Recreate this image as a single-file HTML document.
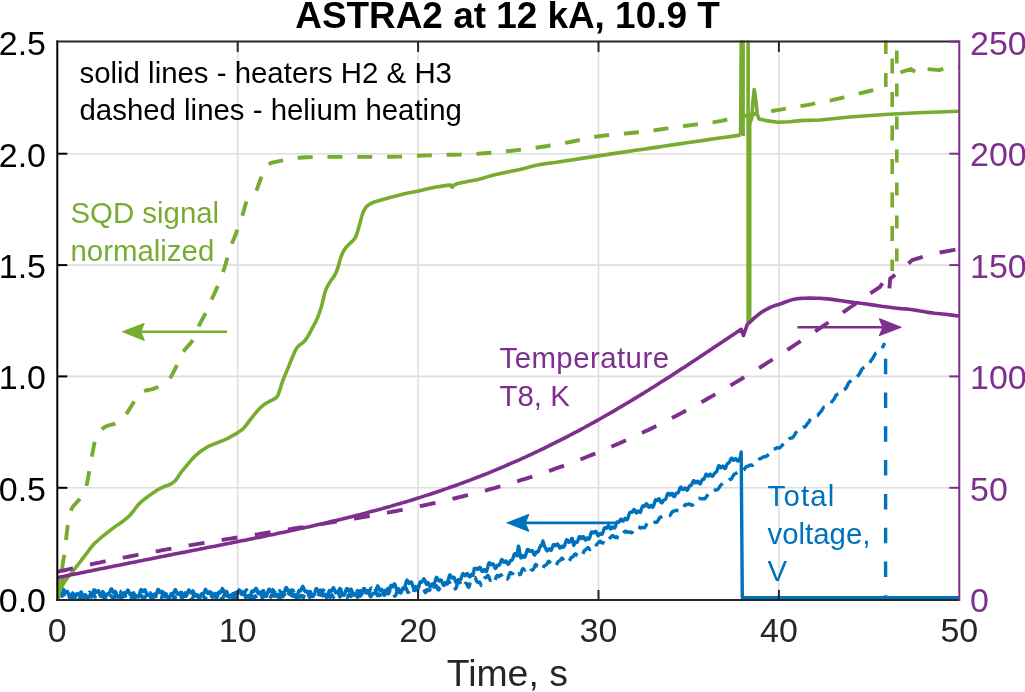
<!DOCTYPE html>
<html><head><meta charset="utf-8"><title>ASTRA2 at 12 kA, 10.9 T</title><style>
html,body{margin:0;padding:0;background:#fff;overflow:hidden;}
svg{display:block;}
text{font-family:"Liberation Sans",Arial,Helvetica,sans-serif;}
</style></head><body>
<svg width="1025" height="692" viewBox="0 0 1025 692">
<defs><clipPath id="ax"><rect x="57.3" y="40.6" width="902.1" height="560.4"/></clipPath></defs>
<rect width="1025" height="692" fill="#fff"/>
<g stroke="#dedede" stroke-width="1.6"><line x1="237.7" y1="42.4" x2="237.7" y2="599.1"/><line x1="418.1" y1="42.4" x2="418.1" y2="599.1"/><line x1="598.5" y1="42.4" x2="598.5" y2="599.1"/><line x1="778.9" y1="42.4" x2="778.9" y2="599.1"/><line x1="57.3" y1="487.8" x2="959.3" y2="487.8"/><line x1="57.3" y1="376.4" x2="959.3" y2="376.4"/><line x1="57.3" y1="265.1" x2="959.3" y2="265.1"/><line x1="57.3" y1="153.7" x2="959.3" y2="153.7"/></g>
<g clip-path="url(#ax)" stroke-linecap="butt">
<polyline points="57.8,598.1 58.5,596.3 59.2,594.8 59.9,595.1 60.6,595.4 61.3,594.6 62.0,592.7 62.7,590.4 63.4,589.2 64.1,590.3 64.8,592.1 65.5,593.0 66.2,592.0 66.9,591.4 67.6,591.6 68.3,593.4 69.0,595.7 69.7,597.1 70.4,597.4 71.1,597.0 71.8,595.9 72.5,595.9 73.2,597.3 73.9,598.4 74.6,598.6 75.3,597.2 76.0,595.2 76.7,593.8 77.4,593.6 78.1,594.4 78.8,595.0 79.5,594.6 80.2,593.3 80.9,592.0 81.6,592.5 82.3,594.5 83.0,596.0 83.7,596.4 84.4,595.9 85.1,594.8 85.8,594.9 86.5,596.9 87.2,598.6 87.9,598.5 88.6,597.2 89.3,596.0 90.0,596.0 90.7,596.9 91.4,597.1 92.1,595.7 92.8,593.1 93.5,590.7 94.2,589.7 94.9,590.5 95.6,592.1 96.3,592.4 97.0,591.6 97.7,590.8 98.4,590.7 99.1,592.3 99.8,594.9 100.5,596.3 101.2,595.6 101.9,594.8 102.6,594.9 103.3,596.4 104.0,598.3 104.7,599.1 105.4,598.3 106.1,596.2 106.8,594.4 107.5,593.8 108.2,594.2 108.9,594.0 109.6,592.6 110.3,590.4 111.0,588.9 111.7,589.0 112.4,590.7 113.1,592.4 113.8,592.9 114.5,592.3 115.2,591.3 115.9,592.1 116.6,594.5 117.3,596.8 118.0,597.2 118.7,596.1 119.4,595.6 120.1,596.4 120.8,598.0 121.5,598.7 122.2,597.6 122.9,595.2 123.6,592.7 124.3,592.6 125.0,593.3 125.7,593.7 126.4,592.8 127.1,591.0 127.8,590.0 128.5,590.7 129.2,592.7 129.9,594.4 130.6,594.9 131.3,594.1 132.0,593.5 132.7,594.1 133.4,596.5 134.1,598.3 134.8,598.4 135.5,597.1 136.2,595.9 136.9,596.1 137.6,596.6 138.3,597.0 139.0,595.9 139.7,593.2 140.4,590.7 141.1,589.5 141.8,590.2 142.5,591.5 143.2,591.7 143.9,590.6 144.6,589.7 145.3,590.3 146.0,592.2 146.7,594.6 147.4,595.5 148.1,595.4 148.8,594.2 149.5,594.6 150.2,596.1 150.9,598.1 151.6,599.1 152.3,598.8 153.0,597.2 153.7,595.3 154.4,594.4 155.1,595.0 155.8,595.6 156.5,594.0 157.2,591.6 157.9,589.5 158.6,589.7 159.3,591.3 160.0,592.6 160.7,592.8 161.4,592.2 162.1,591.3 162.8,592.1 163.5,594.3 164.2,596.2 164.9,596.9 165.6,596.2 166.3,595.3 167.0,595.9 167.7,597.4 168.4,598.9 169.1,598.9 169.8,597.2 170.5,595.0 171.2,593.5 171.9,593.6 172.6,593.9 173.3,593.5 174.0,592.0 174.7,590.3 175.4,589.6 176.1,590.8 176.8,593.2 177.5,594.3 178.2,594.1 178.9,593.5 179.6,593.0 180.3,594.4 181.0,596.5 181.7,598.0 182.4,598.2 183.1,597.3 183.8,596.0 184.5,595.5 185.2,596.3 185.9,596.3 186.6,595.5 187.3,593.7 188.0,591.4 188.7,589.9 189.4,590.6 190.1,592.1 190.8,593.0 191.5,592.8 192.2,591.6 192.9,590.8 193.6,592.1 194.3,594.3 195.0,596.1 195.7,596.1 196.4,595.1 197.1,594.7 197.8,596.3 198.5,598.1 199.2,598.9 199.9,597.8 200.6,595.6 201.3,593.9 202.0,594.7 202.7,594.5 203.4,594.1 204.1,592.4 204.8,590.5 205.5,589.4 206.2,590.3 206.9,592.0 207.6,593.4 208.3,593.1 209.0,592.2 209.7,591.6 210.4,592.8 211.1,595.1 211.8,597.0 212.5,597.3 213.2,596.2 213.9,595.3 214.6,595.5 215.3,596.7 216.0,598.3 216.7,598.2 217.4,596.4 218.1,593.7 218.8,592.1 219.5,592.0 220.2,592.9 220.9,592.4 221.6,589.9 222.3,588.5 223.0,589.3 223.7,591.3 224.4,592.7 225.1,592.8 225.8,591.9 226.5,591.3 227.2,592.4 227.9,594.7 228.6,596.9 229.3,597.2 230.0,595.9 230.7,595.2 231.4,595.7 232.1,597.3 232.8,598.6 233.5,597.6 234.2,595.2 234.9,593.0 235.6,592.5 236.3,593.3 237.0,593.8 237.7,592.7 238.4,591.2 239.1,589.9 239.8,590.3 240.5,591.6 241.2,593.7 241.9,594.5 242.6,593.6 243.3,592.6 244.0,593.0 244.7,594.7 245.4,597.3 246.1,597.8 246.8,596.6 247.5,595.7 248.2,595.4 248.9,596.8 249.6,597.9 250.3,596.8 251.0,593.9 251.7,591.3 252.4,590.7 253.1,591.1 253.8,591.6 254.5,591.1 255.2,589.3 255.9,588.4 256.6,588.9 257.3,591.0 258.0,593.3 258.7,593.7 259.4,592.4 260.1,592.1 260.8,593.2 261.5,596.1 262.2,597.7 262.9,597.5 263.6,596.1 264.3,595.1 265.0,595.5 265.7,596.4 266.4,596.1 267.1,594.8 267.8,592.3 268.5,589.8 269.2,589.1 269.9,590.2 270.6,591.7 271.3,591.6 272.0,590.6 272.7,589.6 273.4,590.4 274.1,592.4 274.8,594.6 275.5,596.2 276.2,596.4 276.9,595.0 277.6,594.3 278.3,595.5 279.0,597.6 279.7,598.3 280.4,597.3 281.1,594.7 281.8,592.9 282.5,592.8 283.2,593.2 283.9,593.1 284.6,591.4 285.3,588.9 286.0,587.6 286.7,587.9 287.4,589.6 288.1,591.4 288.8,591.8 289.5,590.6 290.2,590.3 290.9,591.3 291.6,594.2 292.3,596.1 293.0,596.2 293.7,594.8 294.4,594.4 295.1,595.8 295.8,597.4 296.5,597.8 297.2,596.1 297.9,593.6 298.6,591.3 299.3,590.4 300.0,591.1 300.7,590.7 301.4,589.2 302.1,587.2 302.8,586.3 303.5,587.4 304.2,589.7 304.9,591.3 305.6,591.9 306.3,591.6 307.0,591.1 307.7,591.9 308.4,594.3 309.1,596.5 309.8,597.5 310.5,596.7 311.2,594.9 311.9,594.5 312.6,595.1 313.3,595.9 314.0,594.9 314.7,593.3 315.4,590.7 316.1,588.8 316.8,588.8 317.5,590.2 318.2,591.6 318.9,592.3 319.6,591.0 320.3,590.0 321.0,590.5 321.7,592.8 322.4,595.3 323.1,595.9 323.8,594.8 324.5,594.1 325.2,594.2 325.9,595.6 326.6,597.6 327.3,597.1 328.0,595.2 328.7,592.0 329.4,590.4 330.1,590.6 330.8,591.2 331.5,591.1 332.2,589.8 332.9,588.2 333.6,587.8 334.3,589.4 335.0,591.5 335.7,592.9 336.4,592.7 337.1,591.8 337.8,591.4 338.5,592.9 339.2,595.4 339.9,597.0 340.6,596.1 341.3,594.6 342.0,594.1 342.7,594.5 343.4,595.2 344.1,595.4 344.8,594.3 345.5,591.6 346.2,589.4 346.9,588.5 347.6,589.0 348.3,590.4 349.0,591.3 349.7,590.9 350.4,589.7 351.1,589.0 351.8,590.4 352.5,592.8 353.2,594.6 353.9,595.2 354.6,594.2 355.3,593.2 356.0,594.1 356.7,595.6 357.4,597.2 358.1,597.0 358.8,595.2 359.5,592.7 360.2,590.8 360.9,591.4 361.6,592.3 362.3,591.7 363.0,589.7 363.7,588.5 364.4,588.5 365.1,590.2 365.8,592.1 366.5,592.9 367.2,592.7 367.9,591.7 368.6,591.8 369.3,593.6 370.0,595.9 370.7,596.8 371.4,596.0 372.1,594.6 372.8,593.3 373.5,593.1 374.2,593.4 374.9,593.5 375.6,592.1 376.3,589.6 377.0,587.1 377.7,585.9 378.4,587.2 379.1,589.2 379.8,590.5 380.5,590.0 381.2,589.2 381.9,589.6 382.6,591.5 383.3,593.9 384.0,595.2 384.7,595.2 385.4,593.5 386.1,592.6 386.8,592.6 387.5,593.4 388.2,593.9 388.9,593.4 389.6,590.8 390.3,587.3 391.0,585.4 391.7,585.7 392.4,586.9 393.1,586.3 393.8,584.4 394.5,583.9 395.2,585.1 395.9,587.5 396.6,589.9 397.3,589.7 398.0,588.7 398.7,588.9 399.4,590.5 400.1,592.5 400.8,593.0 401.5,591.9 402.2,589.5 402.9,588.0 403.6,587.9 404.3,588.0 405.0,586.1 405.7,583.8 406.4,581.1 407.1,580.1 407.8,581.2 408.5,582.8 409.2,583.5 409.9,582.9 410.6,582.0 411.3,582.0 412.0,583.2 412.7,585.7 413.4,587.9 414.1,588.5 414.8,587.2 415.5,586.6 416.2,587.4 416.9,588.7 417.6,589.5 418.3,588.4 419.0,585.6 419.7,582.9 420.4,581.7 421.1,582.4 421.8,582.2 422.5,581.3 423.2,579.7 423.9,578.8 424.6,579.7 425.3,581.6 426.0,583.5 426.7,584.5 427.4,583.5 428.1,582.6 428.8,583.6 429.5,585.5 430.2,587.1 430.9,586.7 431.6,585.4 432.3,583.9 433.0,584.2 433.7,584.2 434.4,583.3 435.1,581.5 435.8,578.6 436.5,577.3 437.2,577.8 437.9,579.4 438.6,580.6 439.3,581.0 440.0,580.3 440.7,579.9 441.4,580.3 442.1,582.5 442.8,584.2 443.5,584.8 444.2,583.7 444.9,582.6 445.6,582.7 446.3,582.5 447.0,582.4 447.7,581.7 448.4,579.5 449.1,576.5 449.8,574.9 450.5,575.2 451.2,576.7 451.9,578.0 452.6,577.9 453.3,577.4 454.0,577.3 454.7,579.0 455.4,581.2 456.1,582.6 456.8,583.3 457.5,582.2 458.2,579.8 458.9,579.4 459.6,579.7 460.3,580.1 461.0,579.0 461.7,576.6 462.4,574.4 463.1,573.5 463.8,574.3 464.5,575.3 465.2,575.7 465.9,575.1 466.6,573.9 467.3,573.6 468.0,574.5 468.7,575.9 469.4,576.9 470.1,576.7 470.8,575.7 471.5,574.3 472.2,574.0 472.9,575.3 473.6,572.3 474.3,568.4 475.0,569.1 475.7,569.1 476.4,568.3 477.1,568.5 477.8,569.4 478.5,569.2 479.2,568.0 479.9,567.3 480.6,567.8 481.3,570.0 482.0,571.4 482.7,571.6 483.4,570.6 484.1,569.6 484.8,569.8 485.5,571.4 486.2,571.6 486.9,570.3 487.6,567.7 488.3,564.6 489.0,563.0 489.7,562.8 490.4,563.9 491.1,564.7 491.8,564.5 492.5,564.0 493.2,563.9 493.9,565.1 494.6,567.3 495.3,568.5 496.0,567.8 496.7,566.6 497.4,565.3 498.1,565.4 498.8,565.5 499.5,564.6 500.2,563.5 500.9,561.3 501.6,559.6 502.3,559.8 503.0,561.1 503.7,562.2 504.4,562.3 505.1,561.5 505.8,560.9 506.5,561.5 507.2,563.0 507.9,564.2 508.6,564.1 509.3,563.0 510.0,561.6 510.7,560.4 511.4,560.3 512.1,560.1 512.8,558.8 513.5,556.5 514.2,554.4 514.9,553.5 515.6,554.0 516.3,555.3 517.0,555.7 517.7,550.5 518.4,546.1 519.1,547.9 519.8,553.4 520.5,557.5 521.2,557.9 521.9,556.9 522.6,555.8 523.3,555.8 524.0,557.1 524.7,557.3 525.4,556.0 526.1,553.5 526.8,551.1 527.5,549.4 528.2,549.4 528.9,550.3 529.6,551.3 530.3,551.4 531.0,550.8 531.7,550.6 532.4,550.7 533.1,552.1 533.8,554.1 534.5,555.1 535.2,554.2 535.9,552.9 536.6,551.7 537.3,552.0 538.0,552.0 538.7,550.7 539.4,548.3 540.1,546.7 540.8,545.5 541.5,545.7 542.2,543.8 542.9,541.0 543.6,543.3 544.3,545.9 545.0,547.1 545.7,548.5 546.4,550.0 547.1,550.9 547.8,550.3 548.5,549.3 549.2,548.7 549.9,549.4 550.6,550.4 551.3,550.0 552.0,548.4 552.7,546.1 553.4,544.8 554.1,544.4 554.8,545.4 555.5,545.7 556.2,545.3 556.9,544.3 557.6,544.0 558.3,545.0 559.0,546.6 559.7,548.0 560.4,547.9 561.1,547.1 561.8,546.1 562.5,547.0 563.2,547.3 563.9,546.8 564.6,545.4 565.3,543.2 566.0,540.8 566.7,539.7 567.4,540.1 568.1,541.5 568.8,542.4 569.5,541.9 570.2,541.5 570.9,540.2 571.6,538.5 572.3,538.5 573.0,542.5 573.7,545.4 574.4,544.1 575.1,542.0 575.8,542.2 576.5,542.5 577.2,542.2 577.9,540.7 578.6,538.4 579.3,536.6 580.0,536.6 580.7,538.0 581.4,538.6 582.1,538.0 582.8,536.7 583.5,536.6 584.2,537.9 584.9,539.6 585.6,540.1 586.3,539.4 587.0,537.9 587.7,538.5 588.4,539.0 589.1,539.1 589.8,537.6 590.5,534.8 591.2,532.4 591.9,531.7 592.6,532.3 593.3,532.9 594.0,532.5 594.7,531.8 595.4,531.3 596.1,531.6 596.8,533.4 597.5,535.1 598.2,535.8 598.9,534.9 599.6,533.8 600.3,533.5 601.0,533.6 601.7,534.4 602.4,533.7 603.1,532.0 603.8,529.6 604.5,527.8 605.2,527.6 605.9,528.0 606.6,528.2 607.3,527.3 608.0,526.0 608.7,525.6 609.4,526.8 610.1,528.6 610.8,529.0 611.5,528.2 612.2,527.0 612.9,526.9 613.6,527.3 614.3,528.1 615.0,527.6 615.7,525.8 616.4,523.1 617.1,521.9 617.8,522.1 618.5,522.3 619.2,522.0 619.9,520.5 620.6,519.2 621.3,519.1 622.0,520.3 622.7,521.0 623.4,521.0 624.1,520.1 624.8,518.7 625.5,518.3 626.2,518.8 626.9,519.8 627.6,519.1 628.3,517.0 629.0,514.4 629.7,512.7 630.4,512.3 631.1,512.3 631.8,512.4 632.5,511.6 633.2,510.3 633.9,509.5 634.6,510.0 635.3,511.5 636.0,512.6 636.7,512.9 637.4,512.1 638.1,511.0 638.8,511.1 639.5,511.9 640.2,512.4 640.9,511.2 641.6,508.6 642.3,506.6 643.0,505.7 643.7,505.9 644.4,506.4 645.1,505.7 645.8,504.2 646.5,503.7 647.2,504.5 647.9,506.0 648.6,507.2 649.3,507.3 650.0,506.4 650.7,505.4 651.4,505.4 652.1,506.8 652.8,507.2 653.5,506.3 654.2,504.1 654.9,501.0 655.6,499.8 656.3,500.2 657.0,500.8 657.7,500.2 658.4,499.1 659.1,498.7 659.8,500.0 660.5,501.6 661.2,502.7 661.9,502.8 662.6,501.6 663.3,500.5 664.0,499.9 664.7,499.8 665.4,499.6 666.1,498.2 666.8,496.0 667.5,493.9 668.2,493.2 668.9,493.7 669.6,494.9 670.3,495.1 671.0,494.4 671.7,493.5 672.4,493.7 673.1,495.3 673.8,496.5 674.5,496.5 675.2,495.4 675.9,493.7 676.6,493.2 677.3,493.1 678.0,492.8 678.7,491.6 679.4,489.7 680.1,487.7 680.8,487.1 681.5,487.7 682.2,488.8 682.9,489.5 683.6,489.4 684.3,488.6 685.0,487.9 685.7,488.2 686.4,489.6 687.1,490.3 687.8,489.5 688.5,488.0 689.2,486.5 689.9,485.7 690.6,485.2 691.3,485.3 692.0,484.0 692.7,482.3 693.4,480.7 694.1,480.8 694.8,481.6 695.5,482.9 696.2,482.8 696.9,481.7 697.6,481.2 698.3,481.6 699.0,482.7 699.7,483.8 700.4,483.7 701.1,482.2 701.8,480.4 702.5,479.4 703.2,478.9 703.9,479.2 704.6,478.0 705.3,475.8 706.0,474.3 706.7,474.2 707.4,475.1 708.1,476.1 708.8,476.1 709.5,475.1 710.2,474.1 710.9,474.6 711.6,475.8 712.3,476.3 713.0,475.8 713.7,474.8 714.4,473.4 715.1,472.8 715.8,472.5 716.5,471.7 717.2,470.2 717.9,467.8 718.6,465.9 719.3,465.8 720.0,466.7 720.7,467.7 721.4,467.8 722.1,466.9 722.8,466.0 723.5,466.4 724.2,467.8 724.9,468.5 725.6,468.2 726.3,465.9 727.0,464.3 727.7,463.2 728.4,463.1 729.1,462.5 729.8,461.5 730.5,459.7 731.2,458.3 731.9,458.1 732.6,459.0 733.3,460.1 734.0,460.3 734.7,459.3 735.4,458.6 736.1,458.8 736.8,459.7 737.5,460.8 738.2,461.1 738.9,460.0 739.6,458.8 740.3,457.4 741.2,452.0 742.3,597.8 959.3,597.8" fill="none" stroke="#0072bd" stroke-width="3.4" stroke-linejoin="round"/>
<polyline points="57.8,593.3 58.5,591.8 59.2,591.5 59.9,592.3 60.6,594.5 61.3,595.9 62.0,596.2 62.7,595.6 63.4,594.9 64.1,595.3 64.8,597.3 65.5,598.9 66.2,599.4 66.9,598.1 67.6,596.8 68.3,596.1 69.0,596.6 69.7,597.6 70.4,597.7 71.1,596.2 71.8,594.0 72.5,593.0 73.2,593.5 73.9,595.3 74.6,596.2 75.3,595.6 76.0,594.5 76.7,593.9 77.4,595.4 78.1,597.2 78.8,598.2 79.5,597.7 80.2,596.8 80.9,596.2 81.6,596.6 82.3,598.0 83.0,599.4 83.7,598.8 84.4,597.1 85.1,595.0 85.8,594.1 86.5,594.2 87.2,595.2 87.9,595.3 88.6,593.8 89.3,592.3 90.0,592.4 90.7,594.2 91.4,595.9 92.1,596.2 92.8,595.7 93.5,594.7 94.2,594.9 94.9,596.7 95.6,598.7 96.3,599.2 97.0,598.0 97.7,596.5 98.4,596.2 99.1,597.2 99.8,597.5 100.5,596.9 101.2,595.1 101.9,592.7 102.6,591.5 103.3,592.2 104.0,593.5 104.7,594.5 105.4,594.1 106.1,593.0 106.8,592.4 107.5,593.4 108.2,595.7 108.9,597.3 109.6,597.6 110.3,596.9 111.0,595.8 111.7,596.2 112.4,597.9 113.1,599.3 113.8,599.4 114.5,597.5 115.2,595.2 115.9,594.2 116.6,594.6 117.3,594.8 118.0,595.1 118.7,593.2 119.4,591.2 120.1,591.1 120.8,592.5 121.5,594.2 122.2,595.3 122.9,594.9 123.6,594.0 124.3,593.7 125.0,594.8 125.7,597.0 126.4,598.6 127.1,598.1 127.8,596.8 128.5,596.2 129.2,596.7 129.9,597.9 130.6,599.0 131.3,597.9 132.0,595.4 132.7,593.4 133.4,592.7 134.1,593.5 134.8,594.7 135.5,595.1 136.2,593.9 136.9,592.5 137.6,592.7 138.3,594.6 139.0,596.4 139.7,597.2 140.4,596.6 141.1,595.5 141.8,595.7 142.5,597.4 143.2,599.3 143.9,599.5 144.6,598.7 145.3,596.6 146.0,595.7 146.7,596.4 147.4,597.4 148.1,597.3 148.8,595.2 149.5,593.3 150.2,592.8 150.9,593.9 151.6,595.3 152.3,596.2 153.0,595.7 153.7,594.7 154.4,594.2 155.1,595.0 155.8,596.9 156.5,598.5 157.2,598.6 157.9,597.5 158.6,596.3 159.3,596.5 160.0,597.9 160.7,599.2 161.4,598.5 162.1,596.3 162.8,594.2 163.5,592.7 164.2,593.3 164.9,594.0 165.6,594.0 166.3,592.9 167.0,591.5 167.7,590.9 168.4,591.9 169.1,594.2 169.8,595.7 170.5,595.6 171.2,594.6 171.9,594.0 172.6,595.1 173.3,597.3 174.0,598.9 174.7,599.1 175.4,597.4 176.1,596.5 176.8,596.0 177.5,596.4 178.2,597.4 178.9,597.5 179.6,595.9 180.3,593.6 181.0,592.3 181.7,592.5 182.4,594.3 183.1,595.3 183.8,594.9 184.5,593.9 185.2,592.8 185.9,593.6 186.6,595.2 187.3,597.4 188.0,598.0 188.7,597.1 189.4,596.1 190.1,596.1 190.8,597.8 191.5,599.3 192.2,598.9 192.9,597.5 193.6,595.2 194.3,593.7 195.0,594.4 195.7,595.2 196.4,594.8 197.1,593.7 197.8,592.2 198.5,591.4 199.2,592.3 199.9,594.2 200.6,595.9 201.3,595.6 202.0,594.2 202.7,593.8 203.4,595.5 204.1,597.7 204.8,598.8 205.5,598.4 206.2,597.1 206.9,596.0 207.6,596.5 208.3,597.2 209.0,598.3 209.7,597.4 210.4,595.2 211.1,593.3 211.8,592.7 212.5,594.3 213.2,595.6 213.9,595.5 214.6,594.3 215.3,593.4 216.0,593.4 216.7,595.2 217.4,597.1 218.1,597.7 218.8,596.7 219.5,595.8 220.2,595.8 220.9,597.3 221.6,598.7 222.3,599.1 223.0,598.1 223.7,595.9 224.4,594.4 225.1,594.5 225.8,595.7 226.5,595.8 227.2,594.8 227.9,593.0 228.6,591.5 229.3,591.9 230.0,593.4 230.7,595.1 231.4,595.4 232.1,594.5 232.8,593.6 233.5,593.9 234.2,595.3 234.9,597.3 235.6,598.4 236.3,598.0 237.0,596.7 237.7,595.9 238.4,596.4 239.1,598.0 239.8,598.5 240.5,597.5 241.2,594.8 241.9,592.9 242.6,591.8 243.3,592.7 244.0,593.5 244.7,593.0 245.4,591.3 246.1,589.9 246.8,590.0 247.5,591.8 248.2,593.7 248.9,594.6 249.6,593.9 250.3,593.0 251.0,593.8 251.7,595.8 252.4,598.1 253.1,598.7 253.8,598.0 254.5,596.4 255.2,595.7 255.9,596.9 256.6,598.2 257.3,597.2 258.0,595.2 258.7,593.1 259.4,592.2 260.1,592.7 260.8,593.5 261.5,593.2 262.2,592.0 262.9,590.7 263.6,590.8 264.3,592.7 265.0,594.9 265.7,595.4 266.4,594.3 267.1,593.5 267.8,594.5 268.5,597.1 269.2,598.6 269.9,598.5 270.6,596.9 271.3,595.5 272.0,594.8 272.7,595.6 273.4,596.2 274.1,594.8 274.8,592.3 275.5,590.2 276.2,590.1 276.9,591.6 277.6,593.1 278.3,593.3 279.0,591.9 279.7,590.7 280.4,591.6 281.1,593.6 281.8,595.7 282.5,596.8 283.2,596.5 283.9,595.2 284.6,594.9 285.3,596.3 286.0,598.4 286.7,598.7 287.4,597.2 288.1,594.5 288.8,593.5 289.5,594.0 290.2,594.8 290.9,594.1 291.6,591.7 292.3,589.9 293.0,590.3 293.7,591.8 294.4,593.4 295.1,593.6 295.8,592.9 296.5,592.1 297.2,592.4 297.9,594.4 298.6,596.7 299.3,597.4 300.0,596.8 300.7,595.7 301.4,595.2 302.1,596.1 302.8,597.3 303.5,597.4 304.2,595.3 304.9,593.3 305.6,591.5 306.3,591.4 307.0,592.8 307.7,594.1 308.4,593.9 309.1,592.5 309.8,591.5 310.5,592.0 311.2,593.8 311.9,595.8 312.6,596.7 313.3,596.0 314.0,594.7 314.7,594.6 315.4,595.8 316.1,597.6 316.8,598.4 317.5,597.5 318.2,595.3 318.9,594.1 319.6,594.1 320.3,594.8 321.0,595.0 321.7,593.5 322.4,591.7 323.1,590.1 323.8,590.5 324.5,592.2 325.2,593.9 325.9,593.9 326.6,592.7 327.3,592.0 328.0,592.7 328.7,594.9 329.4,597.0 330.1,597.3 330.8,595.8 331.5,594.6 332.2,595.4 332.9,596.6 333.6,597.2 334.3,595.9 335.0,593.1 335.7,591.1 336.4,589.8 337.1,590.3 337.8,591.3 338.5,591.0 339.2,589.6 339.9,588.4 340.6,588.7 341.3,590.6 342.0,592.9 342.7,593.6 343.4,593.0 344.1,592.4 344.8,592.4 345.5,594.8 346.2,597.0 346.9,597.7 347.6,597.1 348.3,595.4 349.0,594.4 349.7,595.0 350.4,596.0 351.1,596.4 351.8,594.9 352.5,592.2 353.2,590.6 353.9,590.6 354.6,592.3 355.3,593.4 356.0,592.8 356.7,591.3 357.4,590.5 358.1,591.2 358.8,593.2 359.5,595.2 360.2,596.1 360.9,595.5 361.6,594.5 362.3,593.9 363.0,595.1 363.7,597.0 364.4,597.9 365.1,596.8 365.8,594.3 366.5,591.4 367.2,590.4 367.9,590.6 368.6,592.0 369.3,591.9 370.0,590.2 370.7,588.4 371.4,588.0 372.1,589.1 372.8,591.3 373.5,592.7 374.2,591.9 374.9,590.6 375.6,591.1 376.3,593.0 377.0,595.0 377.7,595.8 378.4,595.1 379.1,593.9 379.8,594.2 380.5,596.0 381.2,597.4 381.9,597.1 382.6,595.0 383.3,592.6 384.0,591.0 384.7,590.6 385.4,591.4 386.1,592.0 386.8,591.0 387.5,588.9 388.2,588.3 388.9,589.3 389.6,591.5 390.3,593.0 391.0,593.3 391.7,592.5 392.4,591.6 393.1,592.2 393.8,594.5 394.5,596.0 395.2,596.1 395.9,594.7 396.6,592.7 397.3,591.5 398.0,591.9 398.7,592.4 399.4,591.6 400.1,589.3 400.8,586.9 401.5,585.8 402.2,586.9 402.9,588.7 403.6,589.2 404.3,588.0 405.0,587.0 405.7,587.5 406.4,588.5 407.1,590.5 407.8,592.4 408.5,592.3 409.2,591.7 409.9,590.9 410.6,591.6 411.3,592.9 412.0,594.2 412.7,594.1 413.4,592.3 414.1,589.8 414.8,588.9 415.5,589.3 416.2,590.0 416.9,589.4 417.6,587.7 418.3,586.0 419.0,585.9 419.7,587.5 420.4,589.2 421.1,590.0 421.8,589.6 422.5,588.6 423.2,588.1 423.9,589.4 424.6,591.4 425.3,592.5 426.0,592.0 426.7,590.3 427.4,589.4 428.1,589.6 428.8,590.6 429.5,590.5 430.2,589.2 430.9,586.5 431.6,584.6 432.3,584.5 433.0,585.6 433.7,586.9 434.4,587.2 435.1,586.2 435.8,585.5 436.5,585.8 437.2,587.4 437.9,589.4 438.6,590.0 439.3,589.2 440.0,587.8 440.7,587.6 441.4,588.9 442.1,590.5 442.8,589.7 443.5,587.2 444.2,584.2 444.9,583.3 445.6,583.6 446.3,584.0 447.0,584.1 447.7,583.5 448.4,582.1 449.1,581.7 449.8,582.9 450.5,584.8 451.2,586.1 451.9,586.4 452.6,585.6 453.3,585.4 454.0,586.1 454.7,587.6 455.4,589.0 456.1,587.9 456.8,585.5 457.5,583.5 458.2,582.6 458.9,582.6 459.6,582.7 460.3,582.5 461.0,581.2 461.7,580.2 462.4,580.5 463.1,582.0 463.8,583.8 464.5,584.5 465.2,583.8 465.9,583.1 466.6,583.8 467.3,585.3 468.0,586.7 468.7,587.4 469.4,585.8 470.1,583.1 470.8,581.6 471.5,580.8 472.2,581.1 472.9,580.6 473.6,579.0 474.3,577.8 475.0,577.4 475.7,578.5 476.4,580.7 477.1,581.8 477.8,582.4 478.5,582.4 479.2,581.9 479.9,582.5 480.6,584.0 481.3,585.4 482.0,584.9 482.7,582.8 483.4,580.2 484.1,578.8 484.8,577.7 485.5,577.7 486.2,577.6 486.9,576.4 487.6,575.4 488.3,575.7 489.0,577.2 489.7,579.1 490.4,580.4 491.1,580.2 491.8,579.9 492.5,580.1 493.2,581.6 493.9,582.8 494.6,581.6 495.3,579.7 496.0,577.5 496.7,576.0 497.4,575.4 498.1,575.8 498.8,576.6 499.5,576.3 500.2,575.5 500.9,574.8 501.6,575.4 502.3,577.1 503.0,578.3 503.7,578.7 504.4,578.0 505.1,577.3 505.8,577.3 506.5,578.1 507.2,579.1 507.9,578.4 508.6,576.7 509.3,574.5 510.0,572.8 510.7,572.4 511.4,573.3 512.1,573.7 512.8,573.4 513.5,572.3 514.2,572.2 514.9,573.1 515.6,574.6 516.3,575.6 517.0,575.2 517.7,574.3 518.4,573.8 519.1,574.1 519.8,574.7 520.5,574.4 521.2,572.6 521.9,570.5 522.6,568.9 523.3,568.7 524.0,569.4 524.7,570.0 525.4,569.9 526.1,569.0 526.8,568.7 527.5,569.2 528.2,570.4 528.9,571.5 529.6,571.8 530.3,571.1 531.0,570.1 531.7,570.0 532.4,570.2 533.1,569.7 533.8,568.5 534.5,566.8 535.2,565.0 535.9,564.5 536.6,565.1 537.3,566.1 538.0,566.3 538.7,566.1 539.4,565.6 540.1,565.9 540.8,567.0 541.5,568.4 542.2,568.8 542.9,568.2 543.6,566.9 544.3,565.9 545.0,565.3 545.7,565.1 546.4,564.7 547.1,563.7 547.8,562.3 548.5,561.3 549.2,561.4 549.9,562.1 550.6,563.1 551.3,563.8 552.0,563.4 552.7,563.0 553.4,563.0 554.1,563.8 554.8,564.9 555.5,565.4 556.2,565.3 556.9,563.9 557.6,562.5 558.3,561.5 559.0,561.2 559.7,560.9 560.4,559.9 561.1,558.8 561.8,558.1 562.5,558.4 563.2,559.6 563.9,560.7 564.6,561.3 565.3,560.7 566.0,560.6 566.7,560.8 567.4,561.5 568.1,562.0 568.8,561.8 569.5,560.8 570.2,559.2 570.9,557.9 571.6,557.3 572.3,557.2 573.0,556.6 573.7,555.8 574.4,554.7 575.1,554.0 575.8,554.2 576.5,554.7 577.2,555.5 577.9,555.5 578.6,555.2 579.3,554.7 580.0,554.8 580.7,555.4 581.4,555.7 582.1,555.7 582.8,554.3 583.5,552.4 584.2,550.7 584.9,550.1 585.6,549.8 586.3,549.3 587.0,548.4 587.7,547.7 588.4,547.8 589.1,548.7 589.8,549.5 590.5,549.5 591.2,549.1 591.9,548.9 592.6,549.1 593.3,549.6 594.0,549.8 594.7,548.7 595.4,546.7 596.1,545.2 596.8,544.3 597.5,543.6 598.2,542.9 598.9,542.1 599.6,541.5 600.3,541.3 601.0,541.7 601.7,542.7 602.4,543.1 603.1,542.9 603.8,542.8 604.5,542.9 605.2,543.4 605.9,543.6 606.6,543.3 607.3,542.1 608.0,540.5 608.7,539.0 609.4,538.4 610.1,537.9 610.8,537.2 611.5,536.3 612.2,535.7 612.9,535.6 613.6,536.2 614.3,536.8 615.0,537.3 615.7,537.2 616.4,536.8 617.1,537.0 617.8,537.6 618.5,538.1 619.2,538.1 619.9,536.5 620.6,535.4 621.3,534.5 622.0,534.2 622.7,533.6 623.4,532.9 624.1,532.1 624.8,531.3 625.5,531.1 626.2,531.4 626.9,532.1 627.6,532.4 628.3,532.2 629.0,531.9 629.7,532.0 630.4,532.4 631.1,532.8 631.8,532.8 632.5,531.9 633.2,530.7 633.9,529.6 634.6,529.0 635.3,528.7 636.0,528.3 636.7,527.6 637.4,526.8 638.1,526.5 638.8,526.8 639.5,527.3 640.2,528.0 640.9,528.0 641.6,527.5 642.3,527.3 643.0,527.5 643.7,527.8 644.4,527.9 645.1,527.0 645.8,525.8 646.5,524.5 647.2,523.4 647.9,522.8 648.6,522.6 649.3,522.3 650.0,521.8 650.7,521.4 651.4,521.6 652.1,522.1 652.8,522.6 653.5,522.8 654.2,522.5 654.9,522.1 655.6,522.2 656.3,522.4 657.0,522.2 657.7,521.1 658.4,519.9 659.1,518.5 659.8,517.6 660.5,517.0 661.2,516.8 661.9,516.7 662.6,516.3 663.3,516.0 664.0,515.8 664.7,516.3 665.4,516.9 666.1,517.0 666.8,516.7 667.5,516.3 668.2,516.1 668.9,515.7 669.6,515.6 670.3,515.1 671.0,513.9 671.7,512.5 672.4,511.7 673.1,511.3 673.8,511.2 674.5,511.0 675.2,510.7 675.9,510.3 676.6,510.3 677.3,510.4 678.0,510.8 678.7,510.9 679.4,510.5 680.1,509.9 680.8,509.5 681.5,509.8 682.2,509.3 682.9,508.5 683.6,507.4 684.3,506.0 685.0,505.0 685.7,504.5 686.4,504.5 687.1,504.6 687.8,504.5 688.5,504.2 689.2,503.9 689.9,504.1 690.6,504.6 691.3,505.1 692.0,505.3 692.7,504.9 693.4,504.3 694.1,503.6 694.8,502.7 695.5,501.8 696.2,500.7 696.9,499.8 697.6,499.1 698.3,498.5 699.0,498.3 699.7,498.5 700.4,498.7 701.1,498.9 701.8,498.9 702.5,498.8 703.2,498.7 703.9,498.9 704.6,498.9 705.3,498.3 706.0,497.4 706.7,496.3 707.4,495.3 708.1,494.4 708.8,493.7 709.5,492.9 710.2,491.9 710.9,491.1 711.6,490.8 712.3,490.9 713.0,490.9 713.7,490.7 714.4,490.4 715.1,490.1 715.8,489.9 716.5,489.9 717.2,489.8 717.9,489.4 718.6,488.4 719.3,487.3 720.0,486.1 720.7,485.3 721.4,484.5 722.1,483.9 722.8,483.2 723.5,482.4 724.2,481.9 724.9,481.5 725.6,481.2 726.3,481.3 727.0,481.2 727.7,481.0 728.4,480.4 729.1,479.8 729.8,479.5 730.5,479.6 731.2,479.1 731.9,478.2 732.6,476.7 733.3,475.5 734.0,474.5 734.7,474.0 735.4,473.7 736.1,473.3 736.8,472.8 737.5,472.4 738.2,472.3 738.9,472.5 739.6,472.8 740.3,472.8 741.0,472.3 741.7,471.7 742.4,470.9 743.1,470.5 743.8,470.0 744.5,469.0 745.2,468.0 745.9,467.1 746.6,466.5 747.3,466.3 748.0,466.2 748.7,466.0 749.4,465.4 750.1,465.1 750.8,465.0 751.5,465.2 752.2,465.3 752.9,465.3 753.6,464.8 754.3,464.2 755.0,463.8 755.7,463.4 756.4,463.1 757.1,462.3 757.8,461.3 758.5,460.3 759.2,459.3 759.9,458.7 760.6,458.5 761.3,458.2 762.0,457.8 762.7,457.2 763.4,456.9 764.1,456.8 764.8,456.8 765.5,456.8 766.2,456.4 766.9,455.8 767.6,455.4 768.3,454.8 769.0,454.3 769.7,453.7 770.4,452.9 771.1,451.8 771.8,450.6 772.5,449.6 773.2,449.1 773.9,449.0 774.6,448.9 775.3,448.7 776.0,448.3 776.7,447.9 777.4,447.6 778.1,447.8 778.8,448.0 779.5,447.9 780.2,447.4 780.9,446.6 781.6,445.9 782.3,445.2 783.0,444.4 783.7,443.7 784.4,442.5 785.1,441.3 785.8,440.3 786.5,439.8 787.2,439.7 787.9,439.6 788.6,439.2 789.3,438.7 790.0,438.3 790.7,438.1 791.4,438.0 792.1,437.9 792.8,437.3 793.5,436.7 794.2,435.5 794.9,434.3 795.6,433.0 796.3,432.1 797.0,431.1 797.7,430.1 798.4,429.3 799.1,428.7 799.8,428.6 800.5,428.6 801.2,428.2 801.9,427.6 802.6,427.3 803.3,427.0 804.0,427.0 804.7,427.0 805.4,426.5 806.1,425.7 806.8,424.3 807.5,423.5 808.2,422.8 808.9,421.9 809.6,420.7 810.3,419.4 811.0,418.5 811.7,418.2 812.4,417.9 813.1,417.5 813.8,416.9 814.5,416.3 815.2,415.9 815.9,415.7 816.6,415.7 817.3,415.5 818.0,415.0 818.7,414.1 819.4,413.2 820.1,412.5 820.8,411.6 821.5,410.8 822.2,409.7 822.9,408.4 823.6,407.4 824.3,406.9 825.0,406.7 825.7,406.5 826.4,406.0 827.1,405.3 827.8,404.8 828.5,404.6 829.2,404.4 829.9,404.1 830.6,403.4 831.3,402.5 832.0,401.5 832.7,400.7 833.4,399.9 834.1,399.0 834.8,397.6 835.5,396.2 836.2,395.1 836.9,394.5 837.6,394.2 838.3,393.9 839.0,393.3 839.7,392.5 840.4,392.0 841.1,391.7 841.8,391.7 842.5,391.4 843.2,390.7 843.9,389.8 844.6,389.4 845.3,388.7 846.0,388.0 846.7,386.9 847.4,385.6 848.1,383.9 848.8,382.6 849.5,381.8 850.2,381.4 850.9,381.1 851.6,380.6 852.3,380.0 853.0,379.4 853.7,379.1 854.4,379.0 855.1,378.9 855.8,378.5 856.5,377.9 857.2,377.0 857.9,376.0 858.6,375.0 859.3,374.1 860.0,372.7 860.7,371.4 861.4,370.1 862.1,368.9 862.8,368.2 863.5,367.9 864.2,367.7 864.9,367.4 865.6,366.8 866.3,366.0 867.0,365.3 867.7,364.9 868.4,364.6 869.1,364.1 869.8,363.3 870.5,361.6 871.2,360.3 871.9,359.4 872.6,358.5 873.3,357.4 874.0,356.0 874.7,354.7 875.4,353.6 876.1,353.0 876.8,352.7 877.5,352.1 878.2,351.4 878.9,350.4 879.6,349.8 880.3,349.3 881.0,348.9 881.7,348.3 882.4,347.4 883.1,346.3 883.8,345.2 884.6,343.0" fill="none" stroke="#0072bd" stroke-width="3.4" stroke-linejoin="round" stroke-dasharray="12 7.4"/>
<line x1="885.6" y1="343" x2="885.6" y2="597.8" stroke="#0072bd" stroke-width="3.4" stroke-dasharray="15.5 18.3" stroke-dashoffset="18.1"/>
<line x1="885.6" y1="597.8" x2="959.3" y2="597.8" stroke="#0072bd" stroke-width="3.4"/>
<polyline points="57.8,598.5 58.4,596.0 59.3,592.4 60.6,588.8 62.2,585.6 64.2,582.5 66.3,579.4 68.6,576.4 71.1,573.3 73.8,570.0 76.8,566.1 80.0,562.0 83.2,557.8 86.5,553.5 89.7,549.2 92.6,545.6 94.5,543.4 96.1,542.0 98.4,540.0 102.3,536.7 107.0,532.9 111.4,529.4 115.2,526.6 118.8,524.2 122.2,521.8 125.3,519.3 128.2,516.9 130.9,514.2 133.5,511.0 136.0,507.5 138.5,504.4 140.9,502.1 143.3,500.1 146.0,498.0 149.5,495.4 153.3,492.7 156.9,490.3 160.1,488.5 163.1,487.1 165.6,486.0 167.3,485.4 168.6,485.1 170.0,484.5 171.9,483.4 173.9,481.9 175.8,480.2 177.3,478.2 178.6,476.0 180.1,473.7 181.8,471.5 183.7,469.1 185.9,466.5 188.5,463.3 191.4,459.8 194.6,456.4 198.2,453.3 202.2,450.3 206.1,447.7 210.0,445.7 213.9,444.1 217.7,442.6 221.2,441.2 224.5,439.8 227.8,438.3 231.3,436.4 234.9,434.4 237.9,432.5 240.1,431.1 241.8,430.0 243.7,428.2 246.0,425.4 248.4,422.1 250.9,418.8 253.3,415.8 255.8,412.8 258.2,410.1 260.5,407.7 262.8,405.6 265.4,403.6 268.8,401.7 272.6,399.9 275.6,398.1 277.2,396.6 278.0,395.1 278.9,392.7 280.2,388.9 281.6,384.3 283.2,379.7 285.0,375.3 286.8,370.9 288.6,366.7 290.1,362.9 291.6,359.3 293.0,355.9 294.3,352.8 295.6,349.9 297.3,347.2 299.6,345.0 302.3,343.1 304.9,340.7 307.1,337.5 309.3,333.8 311.4,329.9 313.6,325.7 315.9,321.3 317.9,316.9 319.5,312.5 320.9,308.2 322.2,303.8 323.3,299.3 324.3,294.8 325.5,290.8 326.8,287.6 328.3,284.9 330.0,282.0 332.0,279.1 334.2,276.1 336.3,272.2 338.2,266.7 339.9,260.3 341.7,254.9 343.4,251.3 345.1,248.7 347.1,246.2 349.6,243.7 352.3,241.4 354.7,238.6 356.4,235.1 357.7,231.1 359.0,226.7 360.4,221.6 361.8,216.1 363.4,211.5 365.2,208.3 367.2,206.0 369.9,204.0 373.5,202.3 377.8,201.0 382.9,199.6 389.0,197.8 395.9,195.9 402.4,194.2 408.1,192.9 413.5,191.9 418.6,190.9 423.8,189.7 428.7,188.6 432.7,187.7 434.9,187.2 436.0,187.0 438.0,186.7 442.0,186.1 446.9,185.4 450.5,185.1 451.7,185.7 451.7,186.8 452.1,187.2 452.9,186.5 454.0,185.2 456.8,183.8 462.6,182.5 470.0,181.1 477.0,179.7 482.7,178.2 487.9,176.6 492.7,175.2 497.0,174.2 500.8,173.4 505.0,172.6 509.8,171.6 514.9,170.6 520.0,169.5 525.1,168.2 530.2,166.7 535.0,165.5 539.1,164.7 542.8,164.1 546.7,163.5 550.8,163.0 555.0,162.5 560.0,161.8 566.2,160.8 573.1,159.7 580.0,158.6 586.7,157.6 593.3,156.6 600.0,155.6 606.5,154.6 613.1,153.6 620.0,152.6 627.6,151.5 635.6,150.3 643.4,149.2 650.7,148.1 657.9,147.1 665.0,146.0 672.2,144.9 679.5,143.9 686.7,142.8 693.9,141.7 701.2,140.7 708.4,139.6 716.0,138.5 723.6,137.5 730.0,136.6 734.7,135.9 738.3,135.4 740.6,135.0" fill="none" stroke="#77ac30" stroke-width="3.6" stroke-linejoin="round"/>
<polyline points="740.6,135.0 741.4,20.0" fill="none" stroke="#77ac30" stroke-width="3.6" stroke-linejoin="round"/>
<polyline points="743.1,20.0 743.1,136.0" fill="none" stroke="#77ac30" stroke-width="3.6" stroke-linejoin="round"/>
<polyline points="748.1,20.0 748.1,322.0 749.7,322.0 749.7,124.0 751.8,118.0 752.7,104.0 754.2,89.5 755.8,100.0 757.2,114.0 759.0,119.0 766.2,120.6 777.8,122.2 789.4,121.8 800.0,120.6 820.0,120.0 852.5,116.7 885.0,114.5 917.6,112.8 959.3,111.3" fill="none" stroke="#77ac30" stroke-width="3.6" stroke-linejoin="round"/>
<polyline points="57.8,599.0 58.5,594.6 59.5,588.3 60.5,582.0 61.2,576.2 61.9,570.4 62.6,565.0 63.3,560.3 64.1,555.9 64.8,551.0 65.5,544.9 66.2,538.2 66.9,532.0 67.6,526.5 68.3,521.4 69.1,517.0 69.9,513.5 70.7,510.7 72.0,508.0 74.1,505.2 76.6,502.5 78.8,500.1 80.5,498.2 81.9,496.7 83.2,494.7 84.4,492.4 85.4,489.7 86.4,486.0 87.5,480.9 88.6,474.8 89.7,468.7 90.8,462.7 91.8,456.7 92.9,451.0 93.9,445.5 95.0,440.2 96.2,436.0 97.6,433.3 99.3,431.5 101.0,430.0 102.9,428.4 104.9,427.1 107.0,426.0 109.3,425.2 111.7,424.6 114.0,424.0 116.1,423.3 118.1,422.7 120.0,421.6 121.7,420.0 123.4,418.1 125.0,416.0 126.4,414.0 127.8,411.7 129.8,408.6 132.8,403.7 136.3,397.9 139.5,393.5 141.9,391.5 144.0,390.9 146.0,390.5 148.1,390.0 150.3,389.6 152.5,389.1 154.9,388.2 157.4,387.2 160.0,386.0 162.6,384.9 165.1,383.7 167.7,381.5 170.2,377.9 172.8,373.4 175.3,368.5 177.8,363.2 180.2,357.5 182.9,352.3 186.1,348.1 189.6,344.4 192.7,340.3 195.1,335.3 197.2,330.0 199.2,325.2 201.2,321.3 203.2,317.8 205.0,314.3 206.7,310.6 208.3,306.9 210.0,303.0 212.0,298.7 214.1,294.2 216.0,290.0 217.5,286.6 218.8,283.5 220.3,279.8 222.1,274.8 224.0,269.1 225.8,263.6 227.2,258.5 228.5,253.5 230.1,248.4 232.1,243.0 234.4,237.5 236.6,232.1 238.5,227.1 240.2,222.2 242.0,217.0 243.7,211.0 245.4,204.7 247.4,199.6 249.9,196.7 252.7,194.9 255.0,193.1 256.3,191.0 257.1,188.8 258.3,185.5 260.3,180.0 262.6,173.4 264.8,168.2 266.6,165.6 268.2,164.4 270.0,163.5 271.7,162.7 273.6,162.3 276.7,161.7 281.8,160.6 288.2,159.4 294.0,158.4 298.5,157.8 302.5,157.5 307.0,157.3 312.5,157.1 318.6,157.0 324.4,156.9 329.2,156.9 333.8,156.9 340.0,156.9 348.9,156.9 359.5,156.9 370.0,156.9 380.4,156.8 390.8,156.7 400.0,156.6 406.7,156.4 412.1,156.1 418.6,155.8 427.8,155.4 438.2,155.0 446.8,154.7 451.9,154.6 455.4,154.7 460.0,154.6 467.1,154.3 475.3,153.9 484.0,153.3 493.0,152.6 502.4,151.7 512.0,150.7 521.6,149.6 531.3,148.4 541.0,147.0 550.7,145.5 560.3,143.8 570.0,142.0 579.7,140.0 589.3,137.9 599.0,136.2 608.6,135.0 618.3,134.2 628.0,133.3 638.0,132.2 648.1,131.0 658.0,129.8 667.5,128.4 676.8,127.0 686.0,125.7 695.1,124.6 704.1,123.6 713.0,122.4 721.5,120.8 729.9,118.9 739.0,117.0 749.8,115.0 761.3,112.9 772.0,111.0 780.6,109.6 788.2,108.3 797.0,106.8 808.1,104.8 820.3,102.5 832.0,100.2 842.8,97.7 853.1,95.1 862.0,92.8 869.6,91.0 875.8,89.5 880.0,88.5 885.5,87.0" fill="none" stroke="#77ac30" stroke-width="3.9" stroke-linejoin="round" stroke-dasharray="15 14.8"/>
<line x1="885.8" y1="87" x2="885.8" y2="36" stroke="#77ac30" stroke-width="3.6" stroke-dasharray="14 19"/>
<line x1="892.2" y1="38" x2="892.2" y2="271" stroke="#77ac30" stroke-width="3.6" stroke-dasharray="15 18.5" stroke-dashoffset="13.1"/>
<line x1="896.8" y1="271" x2="896.8" y2="50" stroke="#77ac30" stroke-width="3.6" stroke-dasharray="13 20" stroke-dashoffset="23.5"/>
<polyline points="900.5,72.3 911.0,69.0 918.6,74.4 926.2,69.0 939.2,70.1 950.0,66.9 959.3,67.0" fill="none" stroke="#77ac30" stroke-width="3.9" stroke-linejoin="round" stroke-dasharray="16 15"/>
<polygon points="57.8,599 57.8,579.5 60,578.2 67.2,577.6 61,592 59.5,598.5" fill="#77ac30"/>
<polyline points="57.3,577.6 60.3,577.0 63.3,576.4 66.3,575.8 69.3,575.2 72.3,574.6 75.3,574.0 78.3,573.4 81.3,572.8 84.3,572.2 87.3,571.5 90.3,570.9 93.3,570.3 96.3,569.7 99.3,569.1 102.3,568.5 105.3,567.9 108.3,567.3 111.3,566.7 114.3,566.1 117.3,565.5 120.3,564.9 123.3,564.3 126.3,563.7 129.3,563.1 132.3,562.5 135.3,561.9 138.3,561.3 141.3,560.7 144.3,560.1 147.3,559.5 150.3,558.9 153.3,558.3 156.3,557.7 159.3,557.1 162.3,556.5 165.3,555.9 168.3,555.3 171.3,554.7 174.3,554.1 177.3,553.5 180.3,552.9 183.3,552.4 186.3,551.8 189.3,551.2 192.3,550.6 195.3,550.0 198.3,549.4 201.3,548.8 204.3,548.2 207.3,547.6 210.3,547.0 213.3,546.5 216.3,545.9 219.3,545.3 222.3,544.7 225.3,544.1 228.3,543.5 231.3,542.9 234.3,542.3 237.3,541.7 240.3,541.1 243.3,540.5 246.3,539.9 249.3,539.3 252.3,538.7 255.3,538.1 258.3,537.5 261.3,536.9 264.3,536.3 267.3,535.6 270.3,535.0 273.3,534.4 276.3,533.8 279.3,533.1 282.3,532.5 285.3,531.9 288.3,531.2 291.3,530.6 294.3,530.0 297.3,529.3 300.3,528.6 303.3,528.0 306.3,527.3 309.3,526.7 312.3,526.0 315.3,525.3 318.3,524.6 321.3,523.9 324.3,523.3 327.3,522.6 330.3,521.8 333.3,521.1 336.3,520.4 339.3,519.7 342.3,519.0 345.3,518.2 348.3,517.5 351.3,516.8 354.3,516.0 357.3,515.2 360.3,514.5 363.3,513.7 366.3,512.9 369.3,512.1 372.3,511.3 375.3,510.5 378.3,509.7 381.3,508.9 384.3,508.0 387.3,507.2 390.3,506.4 393.3,505.5 396.3,504.6 399.3,503.8 402.3,502.9 405.3,502.0 408.3,501.1 411.3,500.2 414.3,499.2 417.3,498.3 420.3,497.4 423.3,496.4 426.3,495.4 429.3,494.5 432.3,493.5 435.3,492.5 438.3,491.5 441.3,490.5 444.3,489.4 447.3,488.4 450.3,487.3 453.3,486.3 456.3,485.2 459.3,484.1 462.3,483.0 465.3,481.9 468.3,480.8 471.3,479.6 474.3,478.5 477.3,477.3 480.3,476.2 483.3,475.0 486.3,473.8 489.3,472.6 492.3,471.3 495.3,470.1 498.3,468.9 501.3,467.6 504.3,466.3 507.3,465.0 510.3,463.7 513.3,462.4 516.3,461.1 519.3,459.8 522.3,458.4 525.3,457.1 528.3,455.7 531.3,454.3 534.3,452.9 537.3,451.5 540.3,450.0 543.3,448.6 546.3,447.1 549.3,445.7 552.3,444.2 555.3,442.7 558.3,441.2 561.3,439.7 564.3,438.1 567.3,436.6 570.3,435.0 573.3,433.4 576.3,431.9 579.3,430.3 582.3,428.7 585.3,427.0 588.3,425.4 591.3,423.7 594.3,422.1 597.3,420.4 600.3,418.7 603.3,417.0 606.3,415.3 609.3,413.6 612.3,411.9 615.3,410.1 618.3,408.3 621.3,406.6 624.3,404.8 627.3,403.0 630.3,401.2 633.3,399.4 636.3,397.6 639.3,395.7 642.3,393.9 645.3,392.0 648.3,390.2 651.3,388.3 654.3,386.4 657.3,384.5 660.3,382.6 663.3,380.7 666.3,378.8 669.3,376.9 672.3,375.0 675.3,373.0 678.3,371.1 681.3,369.1 684.3,367.2 687.3,365.2 690.3,363.2 693.3,361.2 696.3,359.3 699.3,357.3 702.3,355.3 705.3,353.3 708.3,351.3 711.3,349.3 714.3,347.3 717.3,345.3 720.3,343.2 723.3,341.2 726.3,339.2 729.3,337.2 732.3,335.2 735.3,333.2 735.6,333.0 741.2,329.3 743.5,335.5 747.2,324.7 750.2,321.9 754.4,317.9 758.7,314.3 762.6,311.6 766.5,309.3 770.3,307.3 774.1,305.8 777.8,304.7 781.6,303.5 785.4,302.0 789.3,300.6 793.1,299.4 797.0,298.7 800.8,298.4 804.7,298.2 808.5,298.1 812.4,298.1 816.2,298.2 820.1,298.3 823.9,298.6 827.8,298.9 831.7,299.4 835.5,299.9 839.4,300.5 843.2,301.0 847.1,301.6 850.9,302.1 854.8,302.6 858.6,303.0 862.5,303.5 866.3,304.0 870.2,304.6 874.0,305.1 877.9,305.7 881.7,306.3 885.6,306.8 889.5,307.3 893.3,307.8 897.2,308.2 901.0,308.6 904.9,308.9 908.7,309.3 912.6,309.8 916.6,310.4 920.3,311.0 923.5,311.5 926.4,312.1 930.0,312.6 934.6,313.2 939.9,313.7 945.0,314.3 950.3,314.9 955.6,315.6 959.3,316.0" fill="none" stroke="#7e2f8e" stroke-width="3.6" stroke-linejoin="round"/>
<polyline points="57.3,571.8 60.3,571.1 63.3,570.5 66.3,569.8 69.3,569.1 72.3,568.4 75.3,567.8 78.3,567.1 81.3,566.4 84.3,565.8 87.3,565.1 90.3,564.5 93.3,563.8 96.3,563.2 99.3,562.6 102.3,561.9 105.3,561.3 108.3,560.7 111.3,560.1 114.3,559.5 117.3,558.9 120.3,558.2 123.3,557.6 126.3,557.1 129.3,556.5 132.3,555.9 135.3,555.3 138.3,554.7 141.3,554.1 144.3,553.6 147.3,553.0 150.3,552.4 153.3,551.9 156.3,551.3 159.3,550.8 162.3,550.2 165.3,549.7 168.3,549.1 171.3,548.6 174.3,548.1 177.3,547.5 180.3,547.0 183.3,546.5 186.3,546.0 189.3,545.4 192.3,544.9 195.3,544.4 198.3,543.9 201.3,543.4 204.3,542.9 207.3,542.4 210.3,541.9 213.3,541.4 216.3,540.9 219.3,540.4 222.3,539.9 225.3,539.4 228.3,538.9 231.3,538.5 234.3,538.0 237.3,537.5 240.3,537.0 243.3,536.5 246.3,536.1 249.3,535.6 252.3,535.1 255.3,534.6 258.3,534.2 261.3,533.7 264.3,533.2 267.3,532.7 270.3,532.3 273.3,531.8 276.3,531.3 279.3,530.9 282.3,530.4 285.3,529.9 288.3,529.4 291.3,529.0 294.3,528.5 297.3,528.0 300.3,527.5 303.3,527.1 306.3,526.6 309.3,526.1 312.3,525.6 315.3,525.1 318.3,524.7 321.3,524.2 324.3,523.7 327.3,523.2 330.3,522.7 333.3,522.2 336.3,521.7 339.3,521.2 342.3,520.7 345.3,520.2 348.3,519.7 351.3,519.2 354.3,518.7 357.3,518.1 360.3,517.6 363.3,517.1 366.3,516.5 369.3,516.0 372.3,515.5 375.3,514.9 378.3,514.4 381.3,513.8 384.3,513.3 387.3,512.7 390.3,512.1 393.3,511.5 396.3,511.0 399.3,510.4 402.3,509.8 405.3,509.2 408.3,508.6 411.3,508.0 414.3,507.3 417.3,506.7 420.3,506.1 423.3,505.5 426.3,504.8 429.3,504.2 432.3,503.5 435.3,502.8 438.3,502.2 441.3,501.5 444.3,500.8 447.3,500.1 450.3,499.4 453.3,498.7 456.3,498.0 459.3,497.2 462.3,496.5 465.3,495.7 468.3,495.0 471.3,494.2 474.3,493.4 477.3,492.7 480.3,491.9 483.3,491.1 486.3,490.3 489.3,489.4 492.3,488.6 495.3,487.8 498.3,486.9 501.3,486.1 504.3,485.2 507.3,484.3 510.3,483.4 513.3,482.5 516.3,481.6 519.3,480.7 522.3,479.7 525.3,478.8 528.3,477.8 531.3,476.9 534.3,475.9 537.3,474.9 540.3,473.9 543.3,472.9 546.3,471.9 549.3,470.8 552.3,469.8 555.3,468.7 558.3,467.7 561.3,466.6 564.3,465.5 567.3,464.4 570.3,463.3 573.3,462.1 576.3,461.0 579.3,459.9 582.3,458.7 585.3,457.5 588.3,456.3 591.3,455.1 594.3,453.9 597.3,452.7 600.3,451.4 603.3,450.2 606.3,448.9 609.3,447.6 612.3,446.3 615.3,445.0 618.3,443.7 621.3,442.4 624.3,441.0 627.3,439.7 630.3,438.3 633.3,436.9 636.3,435.6 639.3,434.1 642.3,432.7 645.3,431.3 648.3,429.9 651.3,428.4 654.3,426.9 657.3,425.4 660.3,423.9 663.3,422.4 666.3,420.9 669.3,419.4 672.3,417.8 675.3,416.3 678.3,414.7 681.3,413.1 684.3,411.5 687.3,409.9 690.3,408.3 693.3,406.7 696.3,405.0 699.3,403.4 702.3,401.7 705.3,400.0 708.3,398.3 711.3,396.6 714.3,394.9 717.3,393.2 720.3,391.4 723.3,389.7 726.3,387.9 729.3,386.2 732.3,384.4 735.3,382.6 738.3,380.8 741.3,379.0 744.3,377.1 747.3,375.3 750.3,373.5 753.3,371.6 756.3,369.7 759.3,367.9 762.3,366.0 765.3,364.1 768.3,362.2 771.3,360.3 774.3,358.3 777.3,356.4 780.3,354.5 783.3,352.5 786.3,350.6 789.3,348.6 792.3,346.6 795.3,344.7 798.3,342.7 801.3,340.7 804.3,338.7 807.3,336.7 810.3,334.7 813.3,332.6 816.3,330.6 819.3,328.6 822.3,326.6 825.3,324.5 828.3,322.5 831.3,320.4 834.3,318.4 837.3,316.3 840.3,314.2 843.3,312.2 846.3,310.1 849.3,308.0 852.3,306.0 855.3,303.9 858.3,301.8 861.3,299.8 864.3,297.7 867.3,295.6 870.3,293.5 873.3,291.4 876.3,289.4 879.3,287.3 880.0,286.8 883.3,282.0 889.1,292.4 890.2,278.6 900.6,270.5 912.2,260.1 923.8,256.6 940.0,252.5 959.3,249.0" fill="none" stroke="#7e2f8e" stroke-width="3.9" stroke-linejoin="round" stroke-dasharray="16 17.5"/>
</g>
<line x1="57.3" y1="40.6" x2="57.3" y2="601.0" stroke="#000" stroke-width="2"/><line x1="56.3" y1="41.6" x2="959.3" y2="41.6" stroke="#262626" stroke-width="2"/><line x1="56.3" y1="600.0" x2="959.3" y2="600.0" stroke="#262626" stroke-width="2"/><line x1="959.3" y1="40.6" x2="959.3" y2="601.0" stroke="#7e2f8e" stroke-width="2"/><line x1="237.7" y1="600.0" x2="237.7" y2="590.0" stroke="#262626" stroke-width="2"/><line x1="237.7" y1="41.6" x2="237.7" y2="51.900000000000006" stroke="#262626" stroke-width="2"/><line x1="418.1" y1="600.0" x2="418.1" y2="590.0" stroke="#262626" stroke-width="2"/><line x1="418.1" y1="41.6" x2="418.1" y2="51.900000000000006" stroke="#262626" stroke-width="2"/><line x1="598.5" y1="600.0" x2="598.5" y2="590.0" stroke="#262626" stroke-width="2"/><line x1="598.5" y1="41.6" x2="598.5" y2="51.900000000000006" stroke="#262626" stroke-width="2"/><line x1="778.9" y1="600.0" x2="778.9" y2="590.0" stroke="#262626" stroke-width="2"/><line x1="778.9" y1="41.6" x2="778.9" y2="51.900000000000006" stroke="#262626" stroke-width="2"/><line x1="57.3" y1="487.8" x2="67.3" y2="487.8" stroke="#000" stroke-width="2"/><line x1="959.3" y1="487.8" x2="949.3" y2="487.8" stroke="#7e2f8e" stroke-width="2"/><line x1="57.3" y1="376.4" x2="67.3" y2="376.4" stroke="#000" stroke-width="2"/><line x1="959.3" y1="376.4" x2="949.3" y2="376.4" stroke="#7e2f8e" stroke-width="2"/><line x1="57.3" y1="265.1" x2="67.3" y2="265.1" stroke="#000" stroke-width="2"/><line x1="959.3" y1="265.1" x2="949.3" y2="265.1" stroke="#7e2f8e" stroke-width="2"/><line x1="57.3" y1="153.7" x2="67.3" y2="153.7" stroke="#000" stroke-width="2"/><line x1="959.3" y1="153.7" x2="949.3" y2="153.7" stroke="#7e2f8e" stroke-width="2"/><line x1="959.3" y1="41.6" x2="949.3" y2="41.6" stroke="#7e2f8e" stroke-width="2"/>
<text x="46" y="612.0" text-anchor="end" fill="#000" font-size="34">0.0</text><text x="970" y="611.8" fill="#7e2f8e" font-size="34">0</text><text x="46" y="500.7" text-anchor="end" fill="#000" font-size="34">0.5</text><text x="970" y="500.5" fill="#7e2f8e" font-size="34">50</text><text x="46" y="389.3" text-anchor="end" fill="#000" font-size="34">1.0</text><text x="970" y="389.1" fill="#7e2f8e" font-size="34">100</text><text x="46" y="278.0" text-anchor="end" fill="#000" font-size="34">1.5</text><text x="970" y="277.8" fill="#7e2f8e" font-size="34">150</text><text x="46" y="166.6" text-anchor="end" fill="#000" font-size="34">2.0</text><text x="970" y="166.4" fill="#7e2f8e" font-size="34">200</text><text x="46" y="55.3" text-anchor="end" fill="#000" font-size="34">2.5</text><text x="970" y="55.1" fill="#7e2f8e" font-size="34">250</text><text x="57.3" y="642" text-anchor="middle" fill="#262626" font-size="34">0</text><text x="237.7" y="642" text-anchor="middle" fill="#262626" font-size="34">10</text><text x="418.1" y="642" text-anchor="middle" fill="#262626" font-size="34">20</text><text x="598.5" y="642" text-anchor="middle" fill="#262626" font-size="34">30</text><text x="778.9" y="642" text-anchor="middle" fill="#262626" font-size="34">40</text><text x="959.3" y="642" text-anchor="middle" fill="#262626" font-size="34">50</text><text x="507.3" y="686.3" text-anchor="middle" fill="#262626" font-size="37.4">Time, s</text><text x="507.5" y="27.8" text-anchor="middle" fill="#000" font-size="36.9" font-weight="bold">ASTRA2 at 12 kA, 10.9 T</text>
<text x="79.5" y="82.6" fill="#000" font-size="29.4">solid lines - heaters H2 &amp; H3</text><text x="79.5" y="120.4" fill="#000" font-size="29.4">dashed lines - helium heating</text><text x="70.5" y="223" fill="#77ac30" font-size="29.4">SQD signal</text><text x="70.5" y="260.5" fill="#77ac30" font-size="29.4">normalized</text><text x="499.5" y="368.2" fill="#7e2f8e" font-size="29.4" letter-spacing="0.45">Temperature</text><text x="499.5" y="405.8" fill="#7e2f8e" font-size="29.4">T8, K</text><text x="767.5" y="505.5" fill="#0072bd" font-size="29.4" letter-spacing="1.2">Total</text><text x="767.5" y="543.5" fill="#0072bd" font-size="29.4">voltage,</text><text x="767.5" y="581.2" fill="#0072bd" font-size="29.4">V</text>
<line x1="227.0" y1="331.8" x2="140.6" y2="331.8" stroke="#77ac30" stroke-width="2.6"/><polygon points="122.6,331.8 144.1,323.5 140.6,331.8 144.1,340.1" fill="#77ac30" stroke="#77ac30" stroke-width="1.2" stroke-linejoin="round"/>
<line x1="797.5" y1="327.2" x2="883.0" y2="327.2" stroke="#7e2f8e" stroke-width="2.6"/><polygon points="901.0,327.2 879.5,318.9 883.0,327.2 879.5,335.5" fill="#7e2f8e" stroke="#7e2f8e" stroke-width="1.2" stroke-linejoin="round"/>
<line x1="615.5" y1="522.9" x2="525.2" y2="522.9" stroke="#0072bd" stroke-width="2.6"/><polygon points="507.2,522.9 528.7,514.6 525.2,522.9 528.7,531.1999999999999" fill="#0072bd" stroke="#0072bd" stroke-width="1.2" stroke-linejoin="round"/>
</svg>
</body></html>
